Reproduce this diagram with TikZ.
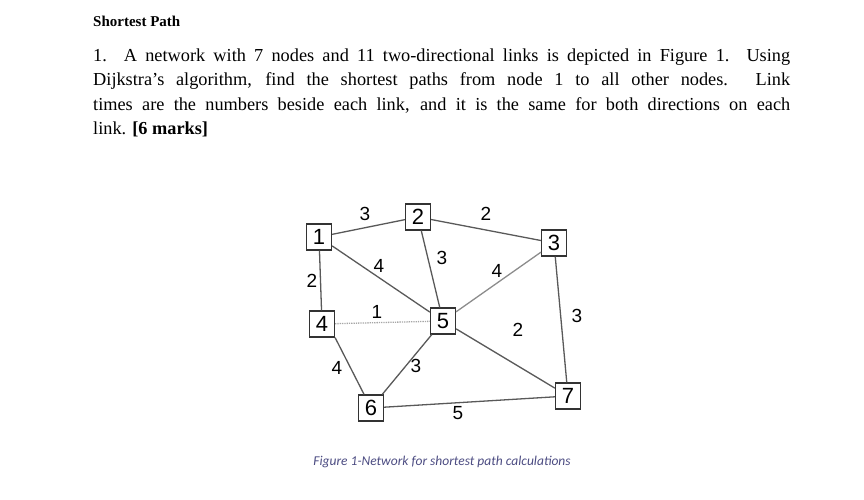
\documentclass[tikz,border=0pt]{standalone}
\usepackage{fontspec}
\setmainfont{Liberation Serif}
\newfontfamily\gsans{Liberation Sans}
\newfontfamily\capf{Carlito}
\begin{document}
\begin{tikzpicture}[x=1pt,y=-1pt,
  nd/.style={draw=black!80,line width=1.2pt,fill=white,minimum width=25pt,minimum height=26pt,inner sep=0pt,font=\gsans\fontsize{22}{22}\selectfont},
  ed/.style={draw=black!65,line width=1.3pt},
  lb/.style={font=\gsans\fontsize{19}{19}\selectfont,inner sep=0pt},
  tx/.style={anchor=west,inner sep=0pt,font=\fontsize{18.3}{20}\selectfont}]
\useasboundingbox (0,0) rectangle (864,499);
\node[tx,font=\bfseries\fontsize{15}{16}\selectfont] (title) at (93,21) {Shortest Path};
\node[tx] (l1) at (93,57) {\makebox[697pt][s]{1. A network with 7 nodes and 11 two-directional links is depicted in Figure 1. Using}};
\node[tx] (l2) at (93,81) {\makebox[697pt][s]{Dijkstra's algorithm, find the shortest paths from node 1 to all other nodes. Link}};
\node[tx] (l3) at (93,105) {\makebox[697pt][s]{times are the numbers beside each link, and it is the same for both directions on each}};
\node[tx] (l4) at (93,129) {link. \textbf{[6 marks]}};

\node[nd] (n1) at (319,237) {1};
\node[nd] (n2) at (418,217) {2};
\node[nd] (n3) at (554,243) {3};
\node[nd] (n4) at (322,324) {4};
\node[nd] (n5) at (443,321) {5};
\node[nd] (n6) at (371,408) {6};
\node[nd] (n7) at (568,396) {7};
\draw[ed] (n1) -- (n2);
\draw[ed] (n2) -- (n3);
\draw[ed] (n1) -- (n5);
\draw[ed] (n2) -- (n5);
\draw[ed,draw=black!45] (n3) -- (n5);
\draw[ed] (n1) -- (n4);
\draw[ed,draw=black!35,densely dotted] (n4) -- (n5);
\draw[ed] (n5) -- (n7);
\draw[ed] (n3) -- (n7);
\draw[ed] (n4.south east) -- (n6);
\draw[ed] (n5) -- (n6);
\draw[ed] (n6) -- (n7);
\node[lb] (e12) at (365,214) {3};
\node[lb] (e23) at (486,214) {2};
\node[lb] (e15) at (379,266) {4};
\node[lb] (e25) at (442,258) {3};
\node[lb] (e35) at (497,271) {4};
\node[lb] (e14) at (312,281) {2};
\node[lb] (e45) at (377,312) {1};
\node[lb] (e57) at (518,330) {2};
\node[lb] (e37) at (577,316) {3};
\node[lb] (e46) at (337,368) {4};
\node[lb] (e56) at (416,366) {3};
\node[lb] (e67) at (458,413) {5};
\node[inner sep=0pt,text=blue!30!black!70,font=\capf\itshape\fontsize{13.5}{14}\selectfont] (cap) at (442,462) {Figure 1-Network for shortest path calculations};
\end{tikzpicture}
\end{document}
